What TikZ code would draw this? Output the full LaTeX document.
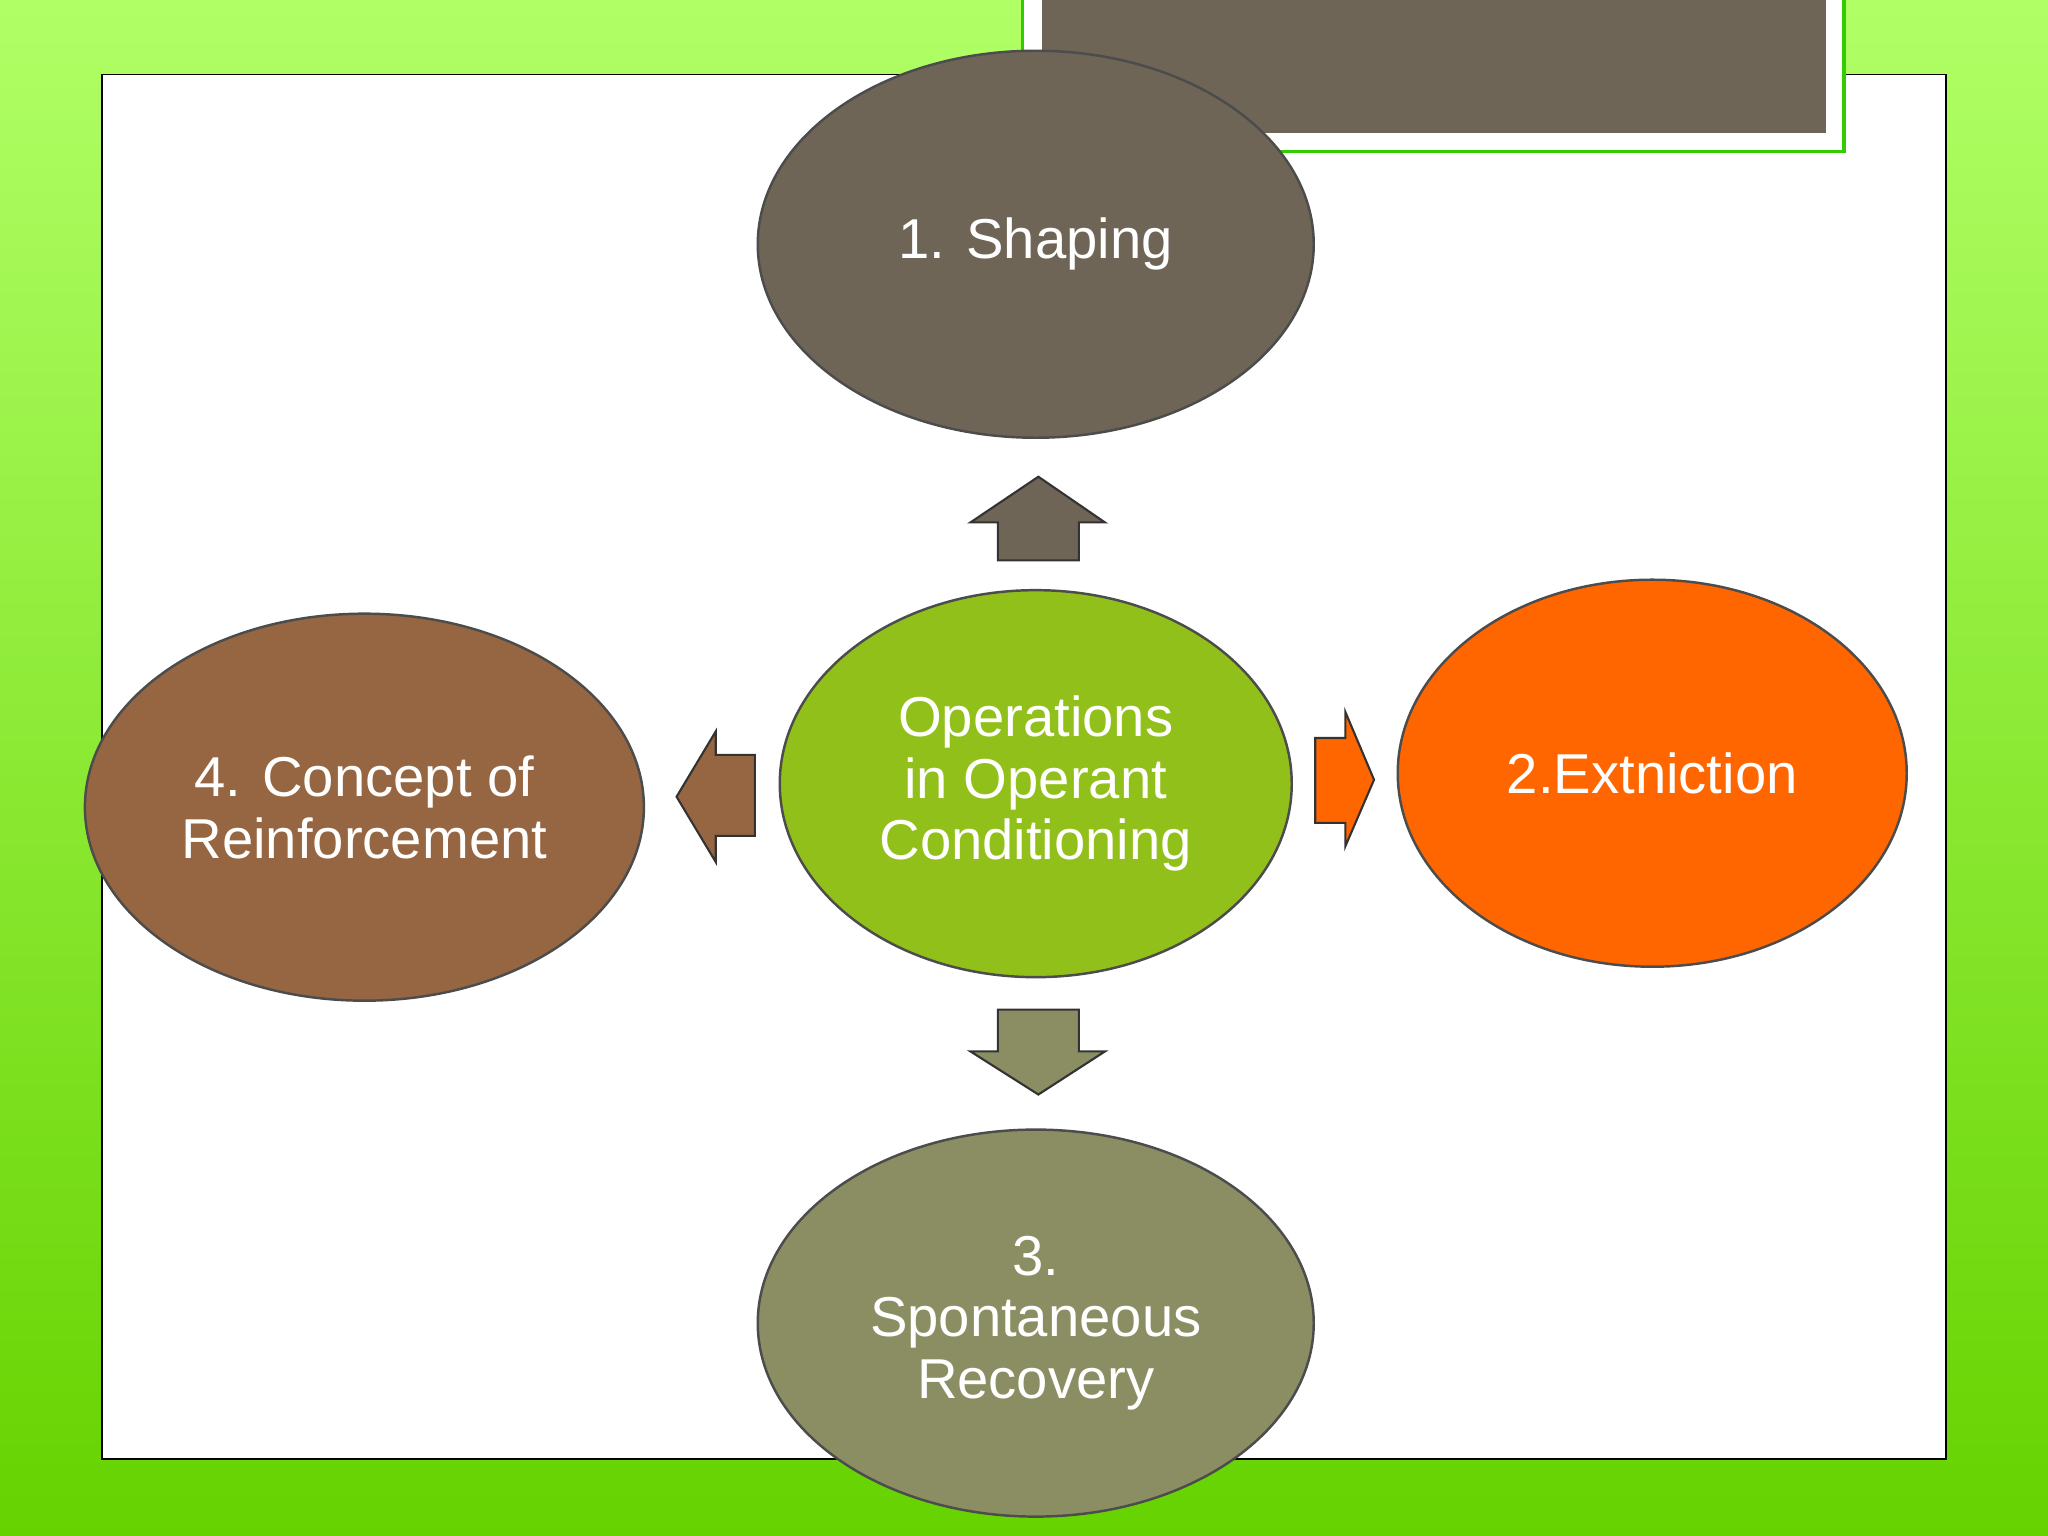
\documentclass[tikz,border=0pt]{standalone}
\usepackage{fontspec}
\setmainfont{Liberation Sans}
\usetikzlibrary{shapes.geometric}
\begin{document}
\begin{tikzpicture}[x=0.013061cm,y=-0.013061cm,
  ell/.style={ellipse,draw=black!70,line width=0.7pt,text=white,align=center,inner sep=0pt,minimum height=3.87cm,font=\fontsize{16}{17.5}\selectfont},
  arr/.style={draw=black!80,line width=0.6pt}]
\definecolor{shp}{HTML}{6E6557}
\definecolor{ctr}{HTML}{92C01A}
\definecolor{ext}{HTML}{FF6600}
\definecolor{rei}{HTML}{956641}
\definecolor{rec}{HTML}{8B8E63}
\useasboundingbox (0,0) rectangle (1568,1176);
\shade[top color=green!35!lime!60!white, bottom color=green!50!olive!70!lime] (0,0) rectangle (1568,1176);
\fill[white,draw=black,line width=0.5pt] (78,57) rectangle (1490,1117);
\fill[white,draw=green!60!olive,line width=1pt] (783,-5) rectangle (1412,116);
\fill[shp] (798,-5) rectangle (1398,102);
\node[ell,fill=shp,minimum width=5.56cm] (s) at (793,187) {1. Shaping};
\node[ell,fill=ctr,minimum width=5.12cm] (c) at (793,600) {Operations\\in Operant\\Conditioning};
\node[ell,fill=ext,minimum width=5.09cm] (e) at (1265,592) {2.Extniction};
\node[ell,fill=rei,minimum width=5.59cm] (r) at (279,618) {4. Concept of\\Reinforcement};
\node[ell,fill=rec,minimum width=5.56cm] (v) at (793,1013) {3.\\Spontaneous\\Recovery};
% arrows
\draw[arr,fill=shp] (795,365) -- (846,400) -- (826,400) -- (826,429) -- (764,429) -- (764,400) -- (743,400) -- cycle;
\draw[arr,fill=rec] (795,838) -- (846,805) -- (826,805) -- (826,773) -- (764,773) -- (764,805) -- (743,805) -- cycle;
\draw[arr,fill=ext] (1052,597) -- (1030,545) -- (1030,565) -- (1007,565) -- (1007,630) -- (1030,630) -- (1030,648) -- cycle;
\draw[arr,fill=rei] (518,610) -- (548,560) -- (548,578) -- (578,578) -- (578,640) -- (548,640) -- (548,660) -- cycle;
\end{tikzpicture}
\end{document}
